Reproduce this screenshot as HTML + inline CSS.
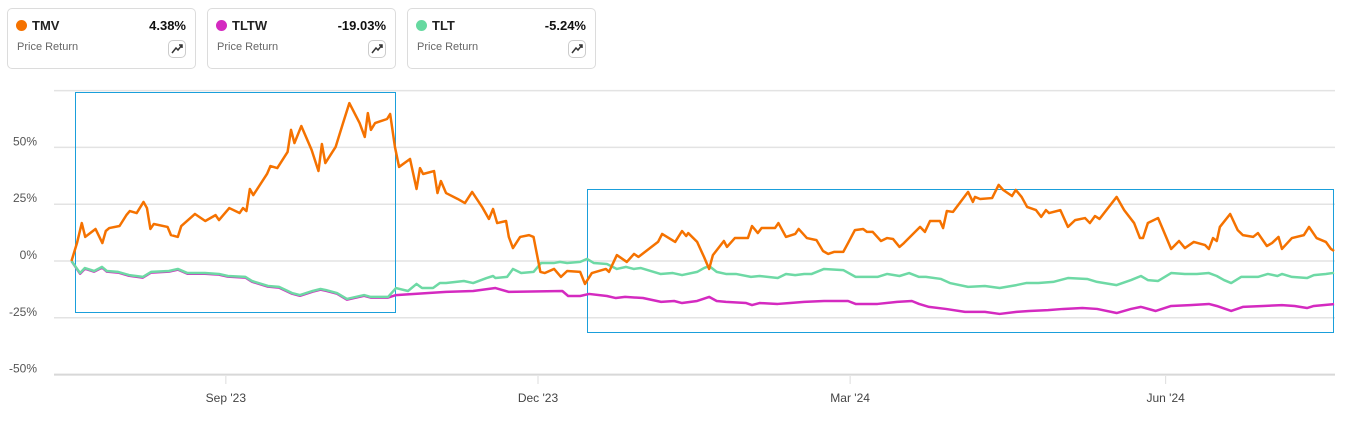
<!DOCTYPE html>
<html><head><meta charset="utf-8">
<style>
body{margin:0;width:1346px;height:423px;background:#fff;font-family:"Liberation Sans",sans-serif;overflow:hidden;position:relative}
.card{position:absolute;top:8px;width:189px;height:61px;border:1px solid #dcdcdc;border-radius:5px;box-sizing:border-box}
.dot{position:absolute;left:8px;top:11px;width:11px;height:11px;border-radius:50%}
.nm{position:absolute;left:24px;top:9px;font-size:13px;font-weight:bold;color:#222}
.val{position:absolute;right:9px;top:9px;font-size:13px;font-weight:bold;color:#111}
.pr{position:absolute;left:9px;top:32px;font-size:11px;color:#666}
.ic{position:absolute;right:9px;top:31px;width:18px;height:18px;border:1px solid #ccc;border-radius:5px;box-sizing:border-box}
svg{position:absolute;left:0;top:0}
</style></head><body>
<div class="card" style="left:7px"><div class="dot" style="background:#f57200"></div><div class="nm">TMV</div><div class="val">4.38%</div><div class="pr">Price Return</div><div class="ic"><svg width="16" height="16" viewBox="0 0 16 16"><path d="M3 12 L7 7 L9 9 L13 4 M10 4 H13 V7" fill="none" stroke="#333" stroke-width="1.5"/></svg></div></div>
<div class="card" style="left:207px"><div class="dot" style="background:#d42ac0"></div><div class="nm">TLTW</div><div class="val">-19.03%</div><div class="pr">Price Return</div><div class="ic"><svg width="16" height="16" viewBox="0 0 16 16"><path d="M3 12 L7 7 L9 9 L13 4 M10 4 H13 V7" fill="none" stroke="#333" stroke-width="1.5"/></svg></div></div>
<div class="card" style="left:407px"><div class="dot" style="background:#66d9a0"></div><div class="nm">TLT</div><div class="val">-5.24%</div><div class="pr">Price Return</div><div class="ic"><svg width="16" height="16" viewBox="0 0 16 16"><path d="M3 12 L7 7 L9 9 L13 4 M10 4 H13 V7" fill="none" stroke="#333" stroke-width="1.5"/></svg></div></div>
<svg id="chart" width="1346" height="423" style="top:0"></svg>
<script>
const yTicks=[75,50,25,0,-25,-50];
const yTickLabels=["","50%","25%","0%","-25%","-50%"];
const xTickDays=[45,136,227,319];
const xTickLabels=["Sep '23","Dec '23","Mar '24","Jun '24"];
const tmvDays=[0,1.6,3,4,7,9,10,11,14,16,17,19,21,22,23,24,28,29,31,32,36,39,42,43,46,49,50,51,52,53,57,58,60,63,64,65,67,70,72,73,74,77,79,81,84,85.5,86.4,87.3,88.5,92,92.9,94.3,95.5,98.7,100.6,101.6,102.5,105.7,106.7,107.7,109.2,112.6,114.7,116.8,119.7,121.7,122.9,124.1,126.7,127.5,128.7,130.8,133.4,134.7,136.7,138,140.7,142.7,144.5,148.3,149.7,151.7,155.8,156.7,159,161.9,164,165.3,171,172.2,176,178,179.2,179.8,182.4,184.4,185.9,187,190.2,191.1,193.4,197.2,198.4,200.1,201.2,205.1,206.1,208.3,211,212,214.4,217.2,219.1,220.6,222.3,225,226.4,228.4,230.8,231.9,233.6,236,237.8,239.5,241.4,242.7,247.4,248.8,250.3,253.2,254.1,255.2,257,259.2,261.4,262.8,263.4,264.9,268.4,270.3,271.6,274.2,275.3,277,278.6,281.2,282.7,284.1,285,288.3,290.5,292.6,295.5,296.9,298.4,299.7,304.7,306.9,309.8,311.5,312.4,313.8,316.8,318.5,320.6,322.9,324.6,327.2,330.5,331.6,332.8,333.9,334.8,337.8,340,341.5,344.5,345.9,348.5,350,351.9,352.9,355.8,359.3,360.8,363,365.7,367.2,368.1];
const tmvValues=[0,7.9,16.7,10.6,14.1,7.9,13.2,14.5,15.4,20.2,22,21.1,26,23.3,14.1,16.3,15,11.4,10.6,15.4,20.7,17.6,20.2,18,23.3,21.1,23.3,22,31.7,29,38.3,41.8,40.9,48,57.7,51.9,59.4,48.9,39.6,51.5,43.1,50.2,59.9,69.5,60.7,54.6,65.1,57.7,60.7,62.5,64.7,50.2,41.4,44.9,31.7,40.9,38.3,39.6,29.9,35.2,29.9,27.3,25.5,30.4,23.8,18.5,22.9,16.7,17.6,10.6,5.7,10.6,11.4,10.6,-4.8,-5.3,-3.5,-7,-4.4,-4.8,-10.1,-5.3,-3.5,-4.8,2.6,-0.4,3.1,1.8,8.4,11.9,8.4,13.2,11,12.3,8.4,1.8,-3.5,2.6,8.8,6.2,10.1,10.1,15.4,12.3,14.5,14.5,16.7,10.6,11.9,14.1,10.1,9.2,4.4,3.1,4,4,7.9,13.6,14.1,12.8,12.8,8.8,10.1,9.7,6.2,7.9,15,12.8,17.6,17.6,14.5,22,21.6,26,30.4,26,28.2,27.3,27.7,33.5,31.3,28.6,31.3,28.2,23.8,22.4,19.4,22.4,21.1,22.4,15,18,18.9,16.7,19.8,18.5,28.2,22.4,16.7,10.1,10.1,16.7,18.9,12.8,5.3,8.8,5.7,8.4,7,5.3,10.1,8.8,15,20.7,13.6,11.4,10.6,12.3,6.6,7.9,10.6,5.3,10.1,11.4,15,10.1,8.4,5.3,4.4];
const tltDays=[0,2.5,3.9,6.6,8.9,10.3,13.6,16.8,20.8,23.2,28.4,31,33.8,38.9,43,45.6,50.7,52.6,57.3,60.5,64.3,66.6,70.3,72.6,74.2,77.4,80.3,85.3,87.2,92.3,94.6,98.1,100.6,102.2,105.4,107.4,109.2,114.4,117.1,121,122.9,123.6,127,128.7,131.1,134.7,136.9,140.6,142.4,144.5,148.3,150.3,152.3,156.1,159,161.7,163.9,166,171.7,175.3,178,182.4,184.4,185.9,188.1,190.8,193.7,198.1,200.6,205.9,208.3,211,213.6,215.8,219.4,225,228.6,235,237.8,241.4,244.2,247.1,249.1,253.5,256.1,261.4,266.3,270.6,275.5,278.3,281.9,286.2,290.5,296.1,299,304.7,308.9,311.8,313.8,316.8,320.6,324.6,328.1,331.6,333.9,336,338.1,341,345.9,348.8,351.6,352.9,355.8,360.2,362.2,365.7,368.1];
const tltValues=[0,-5.3,-3.1,-4.4,-2.6,-4.4,-4.8,-6.2,-7,-4.8,-4.4,-3.5,-5.3,-5.3,-5.7,-6.6,-7,-8.8,-11,-11.4,-14.1,-15,-13.2,-12.3,-12.8,-14.1,-16.7,-15,-15.8,-15.8,-11.9,-13.2,-10.1,-11.9,-11.9,-9.7,-9.7,-8.8,-9.7,-7.5,-6.6,-7.5,-7,-3.5,-5.3,-4.8,-0.9,-0.9,-0.4,-0.9,-0.4,0.9,-0.9,-1.3,-3.5,-2.6,-3.5,-3.1,-5.7,-5.3,-6.2,-4.8,-3.1,-2.2,-4.8,-5.7,-5.7,-7,-6.6,-7.5,-5.7,-6.2,-5.7,-5.7,-3.5,-4,-7,-7,-5.7,-6.6,-5.3,-7,-7,-7.9,-9.7,-11.4,-11,-11.9,-10.6,-9.7,-9.7,-9.2,-7.5,-7.9,-9.2,-10.6,-8.4,-6.6,-8.4,-8.8,-5.3,-5.7,-5.7,-5.3,-6.6,-8.4,-9.7,-7,-7,-5.7,-6.6,-5.7,-7,-7.5,-6.2,-5.7,-5.2];
const tltwDays=[0,2.5,3.9,6.6,8.9,10.3,13.6,16.8,20.8,23.2,28.4,31,33.8,38.9,43,45.6,50.7,52.6,57.3,60.5,64.3,66.6,70.3,72.6,74.2,77.4,80.3,85.3,87.2,92.3,94.6,104.1,109.2,117.1,123.6,127.5,143.1,144.8,148.3,150.9,156.1,158.7,161.4,166.6,171.9,175.7,178,182.4,185.9,188.1,190.8,196.7,198.4,200.6,205.9,209.5,213.6,219.4,226.4,228.6,235,240.7,245,247.1,250,254.9,260.5,266.3,270.6,275.5,279.2,284.7,289.1,294.7,299,304.7,308.9,311.8,316.1,320.6,326.1,331.6,333.9,338.1,341.5,347.4,352.9,356.6,360.2,362.2,368.1];
const tltwValues=[0,-5.6,-3.4,-4.7,-2.9,-4.7,-5.1,-6.5,-7.3,-5.1,-4.7,-3.8,-5.6,-5.6,-6,-6.9,-7.3,-9.1,-11.3,-11.7,-14.4,-15.3,-13.5,-12.6,-13.1,-14.4,-17,-15.3,-16.1,-16.1,-15,-14.1,-13.6,-13.2,-11.9,-13.6,-13.2,-15.4,-15.4,-14.5,-15.4,-16.3,-15.8,-16.3,-18,-17.6,-18.5,-17.6,-15.8,-17.6,-18,-18.5,-19.4,-18.5,-18.9,-18.5,-18,-17.6,-17.6,-18.9,-18.9,-18,-17.6,-18.9,-20.2,-21.1,-22.4,-22.4,-23.3,-22.4,-22,-21.6,-21.1,-20.7,-21.1,-22.9,-21.1,-20.2,-22,-19.8,-19.4,-18.9,-19.8,-22,-20.2,-19.8,-19.4,-19.8,-20.7,-19.8,-19];

const NS='http://www.w3.org/2000/svg';
const svg=document.getElementById('chart');
const x=d=>71.5+d*3.43;
const y=v=>261-v*2.272;
function mk(tag,attrs){const e=document.createElementNS(NS,tag);for(const k in attrs)e.setAttribute(k,attrs[k]);svg.appendChild(e);return e;}
yTicks.forEach((t,i)=>{
  const g=mk('line',{x1:54,x2:1335,y1:y(t),y2:y(t),stroke:t===-50?'#d8d8d8':'#e3e3e3','stroke-width':t===-50?2:1.5});
  
  
  if(yTickLabels[i]){const tx=mk('text',{x:37,y:y(t)-2,'text-anchor':'end','font-size':12,fill:'#555'});tx.textContent=yTickLabels[i];
  
  }
});
xTickDays.forEach((d,i)=>{
  const l=mk('line',{x1:x(d),x2:x(d),y1:376,y2:384,stroke:'#ddd','stroke-width':1});
  
  
  const tx=mk('text',{x:x(d),y:402,'text-anchor':'middle','font-size':12,fill:'#444'});tx.textContent=xTickLabels[i];
  
  
});
const b1=mk('rect',{x:75.5,y:92.5,width:320,height:220,fill:'none',stroke:'#1a9fdb','stroke-width':1});


const b2=mk('rect',{x:587.5,y:189.5,width:746,height:143,fill:'none',stroke:'#1a9fdb','stroke-width':1});


function line(days,vals,color,name){
  const p=mk('polyline',{points:days.map((d,i)=>x(d)+','+y(vals[i])).join(' '),fill:'none',stroke:color,'stroke-width':2.5,'stroke-linejoin':'round'});
  
  
}
line(tltwDays,tltwValues,'#d42ac0','tltw-line');
line(tltDays,tltValues,'#6ed9a5','tlt-line');
line(tmvDays,tmvValues,'#f57200','tmv-line');
</script>
</body></html>
